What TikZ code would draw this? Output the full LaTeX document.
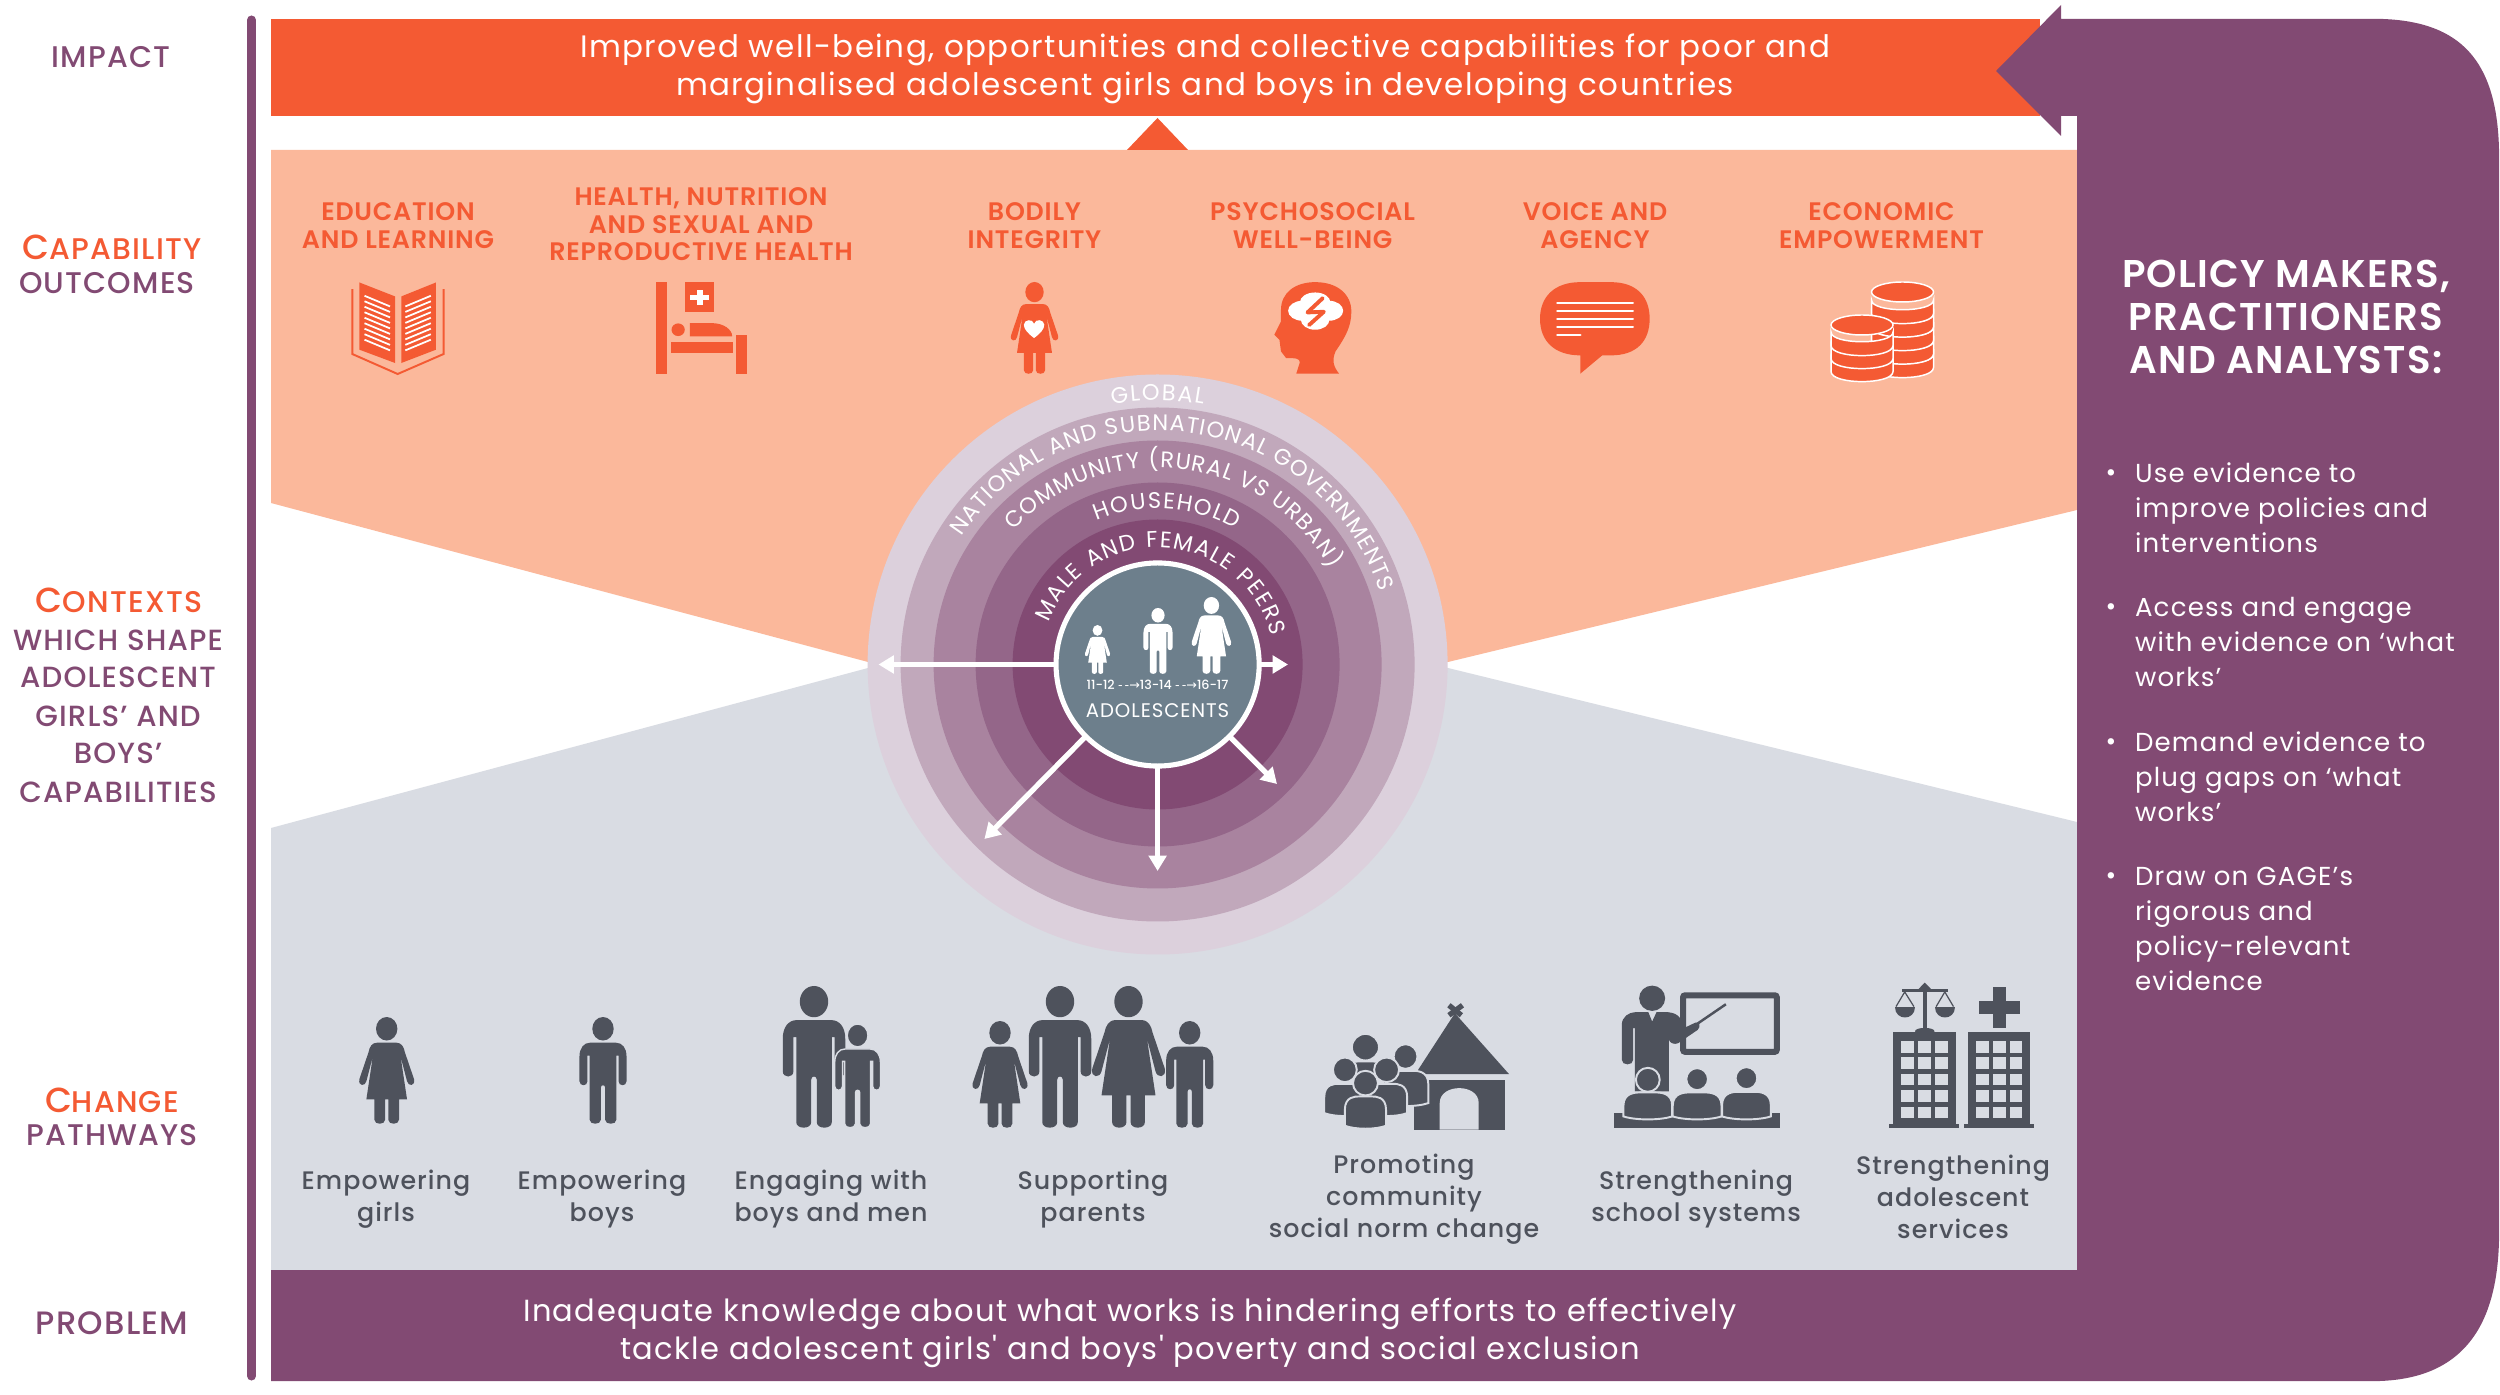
\documentclass[tikz,border=0pt]{standalone}
\usepackage{fontspec}
\usetikzlibrary{arrows.meta,decorations.text}
\setmainfont{Poppins}
\newfontfamily\fReg{Poppins}
\newfontfamily\fRegS{Poppins}[LetterSpace=4.6]
\newfontfamily\fMed{Poppins}[UprightFont=* Medium]
\newfontfamily\fMedS{Poppins}[UprightFont=* Medium,LetterSpace=4]
\newfontfamily\fSemiS{Poppins}[UprightFont=* SemiBold,LetterSpace=3.2]
\newfontfamily\fArrow{DejaVu Sans}
\definecolor{gPurple}{HTML}{824A73}
\definecolor{gOrange}{HTML}{F45A33}
\definecolor{gPeach}{HTML}{FBB89B}
\definecolor{gGrey}{HTML}{D9DCE3}
\definecolor{gDark}{HTML}{4E525C}
\definecolor{gTeal}{HTML}{6D7F8C}
\definecolor{ringA}{HTML}{DCD0DC}
\definecolor{ringB}{HTML}{C1A8BB}
\definecolor{ringC}{HTML}{A9839F}
\definecolor{ringD}{HTML}{946689}
\tikzset{
  txt/.style={inner sep=0pt,outer sep=0pt,align=center},
  leftlab/.style={txt,text=gPurple,font=\fMedS\fontsize{8.5}{10}\selectfont},
  ctxlab/.style={txt,text=gPurple,font=\fMedS\fontsize{8.3}{10}\selectfont},
  caphead/.style={txt,text=gOrange,font=\fSemiS\fontsize{7.2}{7.83}\selectfont},
  pathlab/.style={txt,text=gDark,font=\fMedS\fontsize{7.2}{9.1}\selectfont},
  bandtxt/.style={txt,text=white,font=\fRegS\fontsize{8.8}{11}\selectfont},
  bultxt/.style={inner sep=0pt,outer sep=0pt,align=left,anchor=north west,text=white,font=\fRegS\fontsize{7.4}{9.96}\selectfont},
  bulmark/.style={inner sep=0pt,outer sep=0pt,text=white,font=\fRegS\fontsize{7.4}{9.96}\selectfont},
  whitearrow/.style={draw=white,line width=1.5pt,-{Triangle[length=4.4pt,width=5pt]}},
  pics/boyfig/.style={code={
    \fill[pic actions] (0,11) ellipse[x radius=10,y radius=11];
    \fill[pic actions] (-12,24) -- (12,24) .. controls (18,24) and (22,29) .. (22,37) -- (22,60) .. controls (22,65) and (14.5,65) .. (14.5,60) -- (14.5,36) -- (12.5,36) -- (12.5,96) .. controls (12.5,101) and (2,101) .. (2,96) -- (2,66) .. controls (2,63) and (-2,63) .. (-2,66) -- (-2,96) .. controls (-2,101) and (-12.5,101) .. (-12.5,96) -- (-12.5,36) -- (-14.5,36) -- (-14.5,60) .. controls (-14.5,65) and (-22,65) .. (-22,60) -- (-22,37) .. controls (-22,29) and (-18,24) .. (-12,24) -- cycle;
  }},
  pics/girlfig/.style={code={
    \fill[pic actions] (0,11) ellipse[x radius=10,y radius=11];
    \fill[pic actions] (-9,24) -- (9,24) .. controls (14,24) and (16,28) .. (17,33) -- (25.5,58) .. controls (27,65) and (20,65) .. (19,60) -- (13,37) -- (19,77) -- (11.5,77) -- (11.5,96) .. controls (11.5,101) and (1.5,101) .. (1.5,96) -- (1.5,77) -- (-1.5,77) -- (-1.5,96) .. controls (-1.5,101) and (-11.5,101) .. (-11.5,96) -- (-11.5,77) -- (-19,77) -- (-13,37) -- (-19,60) .. controls (-20,65) and (-27,65) .. (-25.5,58) -- (-17,33) .. controls (-16,28) and (-14,24) .. (-9,24) -- cycle;
  }},
}
% head and shoulders figure, outlined in the background colour
\newcommand\bustz[7]{%
  \filldraw[fill=gDark,draw=gGrey,line width=.55pt] (#1,#2) ellipse[x radius=#3,y radius=#4];
  \filldraw[fill=gDark,draw=gGrey,line width=.55pt] ({#1-#5},#7) -- ({#1-#5},{#6+40}) .. controls ({#1-#5},#6) and ({#1-.5*#5},#6) .. ({#1-.3*#5},#6) -- ({#1+.3*#5},#6) .. controls ({#1+.5*#5},#6) and ({#1+#5},#6) .. ({#1+#5},{#6+40}) -- ({#1+#5},#7) .. controls ({#1+.5*#5},{#7+12}) and ({#1-.5*#5},{#7+12}) .. cycle;}
\newcommand\coindisc[2]{%
  \filldraw[fill=gOrange,draw=white,line width=.42pt] ({#1-31},#2) -- ({#1-31},{#2+13.5}) .. controls ({#1-31},{#2+27}) and ({#1+31},{#2+27}) .. ({#1+31},{#2+13.5}) -- ({#1+31},#2) .. controls ({#1+31},{#2+13}) and ({#1-31},{#2+13}) .. cycle;}
\newcommand\cointop[2]{%
  \filldraw[fill=gOrange,draw=white,line width=.42pt] (#1,#2) ellipse[x radius=31,y radius=10];}
\newcommand\bigC{{\fontsize{9.9}{10}\selectfont C}}
\begin{document}
\begin{tikzpicture}[x=.01cm,y=-.01cm]
\useasboundingbox (0,0) rectangle (2500,1395);
\fill[white] (0,0) rectangle (2500,1395);
% left rule
\draw[gPurple,line width=2.56pt,line cap=round] (251.5,20) -- (251.5,1376);
% coloured fields
\fill[gPeach] (271,150) -- (2077,150) -- (2077,510) -- (1448,662) -- (868,662) -- (271,503) -- cycle;
\fill[gGrey] (271,828) -- (868,668) -- (1448,668) -- (2077,822) -- (2077,1270) -- (271,1270) -- cycle;
\fill[gOrange] (271,19) rectangle (2040,116);
\fill[gOrange] (1127,150) -- (1157.5,118) -- (1188,150) -- cycle;
\fill[gPurple] (1996,71) -- (2061,5) -- (2061,19) -- (2383,19) .. controls (2460,22) and (2497,60) .. (2499,150) -- (2499,1240) .. controls (2497,1330) and (2460,1378) .. (2380,1381) -- (271,1381) -- (271,1270) -- (2077,1270) -- (2077,116) -- (2061,116) -- (2061,136) -- cycle;
% left labels
\node[leftlab] (lImpact) at (111,57) {IMPACT};
\node[leftlab,text=gOrange] (lCap) at (112,247) {\bigC APABILITY};
\node[leftlab] (lOut) at (107,283) {OUTCOMES};
\node[leftlab,text=gOrange] (lCon) at (119,600) {\bigC ONTEXTS};
\node[ctxlab] (lWhich) at (118,640) {WHICH SHAPE};
\node[ctxlab] (lAdo) at (118,677) {ADOLESCENT};
\node[ctxlab] (lGirls) at (118,716) {GIRLS’ AND};
\node[ctxlab] (lBoys) at (118,753) {BOYS’};
\node[ctxlab] (lCapab) at (118,792) {CAPABILITIES};
\node[leftlab,text=gOrange] (lCha) at (112,1100) {\bigC HANGE};
\node[leftlab] (lPat) at (112,1135) {PATHWAYS};
\node[leftlab,font=\fMedS\fontsize{9.2}{10}\selectfont] (lPro) at (112,1323) {PROBLEM};
% bands
\node[bandtxt] (impact) at (1205,69) {Improved well-being, opportunities and collective capabilities for poor and\\marginalised adolescent girls and boys in developing countries};
\node[bandtxt,font=\fRegS\fontsize{8.68}{11}\selectfont] (problem) at (1130,1333) {Inadequate knowledge about what works is hindering efforts to effectively\\tackle adolescent girls' and boys' poverty and social exclusion};
% capability headings
\node[caphead] (c1) at (398,225.5) {EDUCATION\\AND LEARNING};
\node[caphead] (c2) at (701,224.5) {HEALTH, NUTRITION\\AND SEXUAL AND\\REPRODUCTIVE HEALTH};
\node[caphead] (c3) at (1034.5,225.5) {BODILY\\INTEGRITY};
\node[caphead] (c4) at (1312.6,225.5) {PSYCHOSOCIAL\\WELL-BEING};
\node[caphead] (c5) at (1595,225.5) {VOICE AND\\AGENCY};
\node[caphead] (c6) at (1881.5,225.5) {ECONOMIC\\EMPOWERMENT};
% capability icons (book, bed)
\begin{scope}[shift={(260,170)},x=.0051cm,y=-.00333cm]
  \draw[gOrange,line width=.55pt] (181,358) -- (181,553) -- (270,613) -- (360,553) -- (360,358);
  \fill[gOrange] (195,338) -- (265,380) -- (265,580) -- (195,540) -- cycle;
  \fill[gOrange] (345,338) -- (277,380) -- (277,580) -- (345,540) -- cycle;
  \foreach \i in {0,...,8} {
    \draw[white,line width=.5pt] (205,{378+\i*16.5}) -- (255,{410+\i*16.5});
    \draw[white,line width=.5pt] (335,{378+\i*16.5}) -- (285,{410+\i*16.5});
  }
  \fill[gOrange] (776,337) rectangle (799,612);
  \fill[gOrange] (833,337) rectangle (891,427);
  \fill[white] (856,362) rectangle (868,405);
  \fill[white] (843,376) rectangle (880,390);
  \fill[gOrange] (820,480) ellipse[x radius=13,y radius=19];
  \fill[gOrange] (843,460) -- (885,460) .. controls (910,460) and (926,480) .. (926,500) -- (843,500) -- cycle;
  \fill[gOrange] (805,516) rectangle (927,550);
  \fill[gOrange] (934,495) rectangle (955,612);
\end{scope}
\pic[fill=gOrange,scale=.92] at (1034.5,282) {girlfig};
\begin{scope}[shift={(260,170)},x=.0051cm,y=-.00333cm]
  \fill[white] (1518,505) .. controls (1505,490) and (1498,478) .. (1498,465) .. controls (1498,450) and (1515,445) .. (1518,462) .. controls (1521,445) and (1538,450) .. (1538,465) .. controls (1538,478) and (1531,490) .. (1518,505) -- cycle;
\end{scope}
% head, speech bubble
\begin{scope}[shift={(1180,170)},x=.0051cm,y=-.00333cm]
  \fill[gOrange] (265,337) .. controls (225,337) and (198,370) .. (198,420) -- (198,455) -- (185,495) -- (195,510) -- (198,545) -- (208,565) .. controls (225,565) and (235,565) .. (235,578) -- (228,612) -- (312,612) .. controls (300,590) and (298,570) .. (305,545) .. controls (325,500) and (336,470) .. (336,425) .. controls (336,375) and (310,337) .. (265,337) -- cycle;
  \fill[white] (240,423) ellipse[x radius=28,y radius=30];
  \fill[white] (292,423) ellipse[x radius=28,y radius=30];
  \fill[white] (265,398) ellipse[x radius=30,y radius=30];
  \fill[white] (265,450) ellipse[x radius=28,y radius=30];
  \draw[gOrange,line width=1.1pt,line cap=round,line join=round] (280,385) -- (250,428) -- (282,426) -- (253,466);
  \fill[gOrange] (785,337) -- (845,337) .. controls (895,337) and (921,380) .. (921,447) .. controls (921,515) and (895,557) .. (845,557) -- (828,557) -- (785,612) -- (785,557) .. controls (735,557) and (706,515) .. (706,447) .. controls (706,380) and (735,337) .. (785,337) -- cycle;
  \foreach \yy in {400,424,448,472} { \draw[white,line width=.75pt,line cap=round] (740,\yy) -- (888,\yy); }
  \draw[white,line width=.75pt,line cap=round] (740,496) -- (785,496);
\end{scope}
% coins, pixel coordinates
\foreach \yy in {354,340.5,327,313.5,300} { \coindisc{1902.5}{\yy} }
\cointop{1902.5}{292}
\foreach \yy in {358,345,332} { \coindisc{1862}{\yy} }
\cointop{1862}{325}
% ecological rings
\fill[ringA] (1157.6,664.5) circle[radius=290];
\fill[ringB] (1157.6,664.5) circle[radius=257];
\fill[ringC] (1157.6,664.5) circle[radius=224];
\fill[ringD] (1157.6,664.5) circle[radius=182];
\fill[gPurple] (1157.6,664.5) circle[radius=145];
\begin{scope}[shift={(1157.6,664.5)},x=.01cm,y=.01cm]
  \path[decorate,decoration={text along path,text align=fit to path,text={|\fReg\fontsize{6.4}{6}\selectfont\color{white}|GLOBAL}}] (100:264) arc[start angle=100,end angle=80,radius=264];
  \path[decorate,decoration={text along path,text align=fit to path,text={|\fReg\fontsize{6.4}{6}\selectfont\color{white}|NATIONAL AND SUBNATIONAL GOVERNMENTS}}] (147:234) arc[start angle=147,end angle=18,radius=234];
  \path[decorate,decoration={text along path,text align=fit to path,text={|\fReg\fontsize{6.4}{6}\selectfont\color{white}|COMMUNITY (RURAL VS URBAN)}}] (137:197) arc[start angle=137,end angle=29,radius=197];
  \path[decorate,decoration={text along path,text align=fit to path,text={|\fReg\fontsize{6.4}{6}\selectfont\color{white}|HOUSEHOLD}}] (113:156) arc[start angle=113,end angle=60,radius=156];
  \path[decorate,decoration={text along path,text align=fit to path,text={|\fReg\fontsize{6.4}{6}\selectfont\color{white}|MALE AND FEMALE PEERS}}] (159:117) arc[start angle=159,end angle=14,radius=117];
\end{scope}
% adolescents circle and arrows
\node[circle,fill=gTeal,draw=white,line width=1.45pt,minimum size=2.03cm,inner sep=0pt,outer sep=0pt] (adol) at (1157.6,664.5) {};
\coordinate (aW) at (878.5,664.5);
\coordinate (aE) at (1288,664.5);
\coordinate (aS) at (1157.6,871);
\coordinate (aSW) at (984.4,839);
\coordinate (aSE) at (1277,784);
\draw[whitearrow] (adol.180) -- (aW);
\draw[whitearrow] (adol.0) -- (aE);
\draw[whitearrow] (adol.270) -- (aS);
\draw[whitearrow] (adol.225) -- (aSW);
\draw[whitearrow] (adol.315) -- (aSE);
\pic[fill=white,scale=.49] at (1097.5,625) {girlfig};
\pic[fill=white,scale=.66] at (1158,608) {boyfig};
\pic[fill=white,scale=.77] at (1211.4,597) {girlfig};
\node[txt,text=white,font=\fMed\fontsize{3.6}{4}\selectfont] (ages) at (1157.6,685) {11-12 {\fArrow -\,-→}13-14 {\fArrow -\,-→}16-17};
\node[txt,text=white,font=\fRegS\fontsize{5.6}{6}\selectfont] (adoltxt) at (1157.6,710.5) {ADOLESCENTS};
% change pathway figures
\pic[fill=gDark,scale=1.07] at (386.7,1017) {girlfig};
\pic[fill=gDark,scale=1.07] at (603,1017) {boyfig};
\pic[fill=gDark,scale=1.42] at (814,986) {boyfig};
\pic[fill=gDark,draw=gGrey,scale=1.04] at (857.6,1024) {boyfig};
\pic[fill=gDark,scale=1.07] at (1000,1021) {girlfig};
\pic[fill=gDark,scale=1.42] at (1060,986) {boyfig};
\pic[fill=gDark,scale=1.42] at (1128.5,986) {girlfig};
\pic[fill=gDark,scale=1.07] at (1189.7,1021) {boyfig};
% community, school, services icons
\begin{scope}[shift={(1250,960)},x=.00542cm,y=-.00333cm]
  \draw[gDark,line width=1.5pt] (367,136) -- (390,166);
  \draw[gDark,line width=1.5pt] (392,136) -- (367,166);
  \fill[gDark] (378,160) -- (478,343) -- (305,343) -- cycle;
  \fill[gDark] (302,362) rectangle (470,510);
  \fill[gGrey] (350,510) -- (350,430) .. controls (350,370) and (422,370) .. (422,430) -- (422,510) -- cycle;
  \bustz{287}{290}{22}{37}{42}{333}{430}
  \bustz{213}{262}{25}{40}{40}{305}{350}
  \bustz{175}{330}{22}{37}{38}{372}{460}
  \bustz{252}{330}{23}{37}{38}{372}{460}
  \bustz{213}{370}{23}{37}{38}{410}{498}
  % school
  \draw[gDark,line width=1.7pt,rounded corners=.6pt] (799,106) rectangle (972,276);
  \draw[gDark,line width=.7pt] (825,192) -- (878,133);
  \fill[gDark] (742,115) ellipse[x radius=24,y radius=38];
  \fill[gDark] (710,157) -- (735,157) -- (742,185) -- (750,157) -- (772,157) .. controls (790,160) and (797,175) .. (800,205) -- (822,188) .. controls (830,185) and (832,200) .. (826,210) -- (790,250) .. controls (783,255) and (775,250) .. (773,240) -- (773,395) -- (710,395) -- (710,205) -- (707,205) -- (707,300) .. controls (707,318) and (686,318) .. (686,300) -- (686,195) .. controls (686,170) and (700,157) .. (710,157) -- cycle;
  \fill[gDark] (672,460) rectangle (977,505);
  \bustz{734}{360}{22}{36}{45}{398}{470}
  \bustz{825}{358}{20}{33}{45}{398}{470}
  \bustz{916}{355}{20}{33}{45}{396}{470}
  % services
  \fill[gDark] (1187,216) rectangle (1302,495);
  \fill[gDark] (1179,492) rectangle (1309,505);
  \fill[gDark] (1325,216) rectangle (1440,495);
  \fill[gDark] (1317,492) rectangle (1447,505);
  \foreach \yy in {243,292,342,391,441} {
    \foreach \xx in {1202,1233,1264,1340,1371,1402} {
      \fill[gGrey] (\xx,\yy) rectangle ({\xx+23},{\yy+35});
    }
  }
  \fill[gDark] (1241,85) rectangle (1249,210);
  \fill[gDark] (1245,214) ellipse[x radius=18,y radius=10];
  \fill[gDark] (1203,87) rectangle (1287,96);
  \fill[gDark] (1233,88) -- (1245,68) -- (1257,88) -- cycle;
  \draw[gDark,line width=.35pt] (1192,140) -- (1208,96) -- (1225,140);
  \draw[gDark,line width=.35pt] (1266,140) -- (1282,96) -- (1298,140);
  \fill[gDark] (1190,140) -- (1227,140) .. controls (1227,182) and (1190,182) .. (1190,140) -- cycle;
  \fill[gDark] (1264,140) -- (1300,140) .. controls (1300,182) and (1264,182) .. (1264,140) -- cycle;
  \fill[gDark] (1370,80) rectangle (1395,205);
  \fill[gDark] (1345,122) rectangle (1420,162);
\end{scope}
% pathway labels
\node[pathlab] (p1) at (386,1199) {Empowering\\girls};
\node[pathlab] (p2) at (602,1199) {Empowering\\boys};
\node[pathlab] (p3) at (831,1199) {Engaging with\\boys and men};
\node[pathlab] (p4) at (1093,1199) {Supporting\\parents};
\node[pathlab] (p5) at (1404,1199) {Promoting\\community\\social norm change};
\node[pathlab] (p6) at (1696,1199) {Strengthening\\school systems};
\node[pathlab] (p7) at (1953,1197) {Strengthening\\adolescent\\services};
% right panel
\node[txt,text=white,font=\fSemiS\fontsize{11}{12.2}\selectfont] (policy) at (2286,317) {POLICY MAKERS,\\PRACTITIONERS\\AND ANALYSTS:};
\node[bulmark] (b1) at (2111,476) {•};
\node[bulmark] (b2) at (2111,610) {•};
\node[bulmark] (b3) at (2111,745) {•};
\node[bulmark] (b4) at (2111,879) {•};
\node[bultxt] (t1) at (2135,463) {Use evidence to\\improve policies and\\interventions};
\node[bultxt] (t2) at (2135,597) {Access and engage\\with evidence on ‘what\\works’};
\node[bultxt] (t3) at (2135,732) {Demand evidence to\\plug gaps on ‘what\\works’};
\node[bultxt] (t4) at (2135,867) {Draw on GAGE’s\\rigorous and\\policy-relevant\\evidence};
\end{tikzpicture}
\end{document}
